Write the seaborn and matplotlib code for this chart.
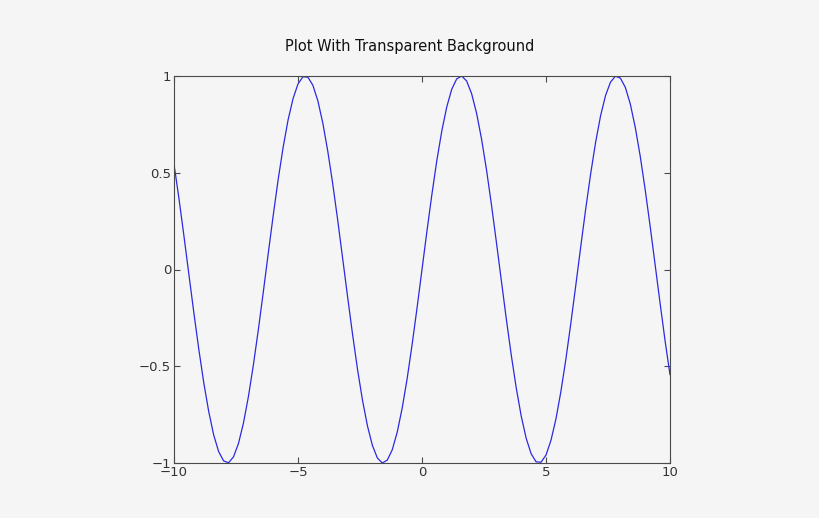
import matplotlib
matplotlib.use("Agg")
import matplotlib.pyplot as plt
import seaborn as sns
import pandas as pd

sns.set_style("white")
plt.rcParams['font.family'] = ['DejaVu Sans']

# --- data (curve samples) ---
x_vals = [-10.0, -9.8, -9.6, -9.4, -9.2, -9.0, -8.8, -8.6, -8.4, -8.2,
          -8.0, -7.8, -7.6, -7.4, -7.2, -7.0, -6.8, -6.6, -6.4, -6.2,
          -6.0, -5.8, -5.6, -5.4, -5.2, -5.0, -4.8, -4.6, -4.4, -4.2,
          -4.0, -3.8, -3.6, -3.4, -3.2, -3.0, -2.8, -2.6, -2.4, -2.2,
          -2.0, -1.8, -1.6, -1.4, -1.2, -1.0, -0.8, -0.6, -0.4, -0.2,
          0.0, 0.2, 0.4, 0.6, 0.8, 1.0, 1.2, 1.4, 1.6, 1.8,
          2.0, 2.2, 2.4, 2.6, 2.8, 3.0, 3.2, 3.4, 3.6, 3.8,
          4.0, 4.2, 4.4, 4.6, 4.8, 5.0, 5.2, 5.4, 5.6, 5.8,
          6.0, 6.2, 6.4, 6.6, 6.8, 7.0, 7.2, 7.4, 7.6, 7.8,
          8.0, 8.2, 8.4, 8.6, 8.8, 9.0, 9.2, 9.4, 9.6, 9.8, 10.0]
y_vals = [0.544, 0.367, 0.174, -0.025, -0.223, -0.412, -0.585, -0.734, -0.855, -0.941,
          -0.989, -0.999, -0.968, -0.899, -0.794, -0.657, -0.494, -0.312, -0.117, 0.083,
          0.279, 0.465, 0.631, 0.773, 0.883, 0.959, 0.996, 0.994, 0.952, 0.872,
          0.757, 0.612, 0.443, 0.256, 0.058, -0.141, -0.335, -0.516, -0.675, -0.808,
          -0.909, -0.974, -1.000, -0.985, -0.932, -0.841, -0.717, -0.565, -0.389, -0.199,
          0.0, 0.199, 0.389, 0.565, 0.717, 0.841, 0.932, 0.985, 1.000, 0.974,
          0.909, 0.808, 0.675, 0.516, 0.335, 0.141, -0.058, -0.256, -0.443, -0.612,
          -0.757, -0.872, -0.952, -0.994, -0.996, -0.959, -0.883, -0.773, -0.631, -0.465,
          -0.279, -0.083, 0.117, 0.312, 0.494, 0.657, 0.794, 0.899, 0.968, 0.999,
          0.989, 0.941, 0.855, 0.734, 0.585, 0.412, 0.223, 0.025, -0.174, -0.367, -0.544]

x_ticks = [-10, -5, 0, 5, 10]
x_tick_labels = ["\u221210", "\u22125", "0", "5", "10"]
y_ticks = [-1, -0.5, 0, 0.5, 1]
y_tick_labels = ["\u22121", "\u22120.5", "0", "0.5", "1"]
title = "Plot With Transparent Background"

df = pd.DataFrame({"x": x_vals, "y": y_vals})

bg = "#f5f5f5"
fig = plt.figure(figsize=(8.2, 5.18), dpi=100, facecolor=bg)
ax = fig.add_axes([174/820, 1 - 463/518, (670-174)/820, (463-76)/518])
ax.set_facecolor(bg)

sns.lineplot(data=df, x="x", y="y", ax=ax, color="#2a2ae0", lw=0.9, sort=False)

ax.set_xlim(-10, 10)
ax.set_ylim(-1, 1)
ax.set_xticks(x_ticks, x_tick_labels)
ax.set_yticks(y_ticks, y_tick_labels)
ax.set_xlabel("")
ax.set_ylabel("")

for s in ax.spines.values():
    s.set_visible(True)
    s.set_color("#4a4a4a")
    s.set_linewidth(0.8)

ax.tick_params(direction="in", length=4, width=0.8, color="#4a4a4a",
               top=True, right=True, bottom=True, left=True,
               labelsize=9.5, labelcolor="#333333", pad=2)

fig.text(0.5, 1 - 47/518, title, ha="center", va="center", fontsize=10.5, color="#111111")

fig.savefig("out.png", dpi=100, facecolor=bg)
